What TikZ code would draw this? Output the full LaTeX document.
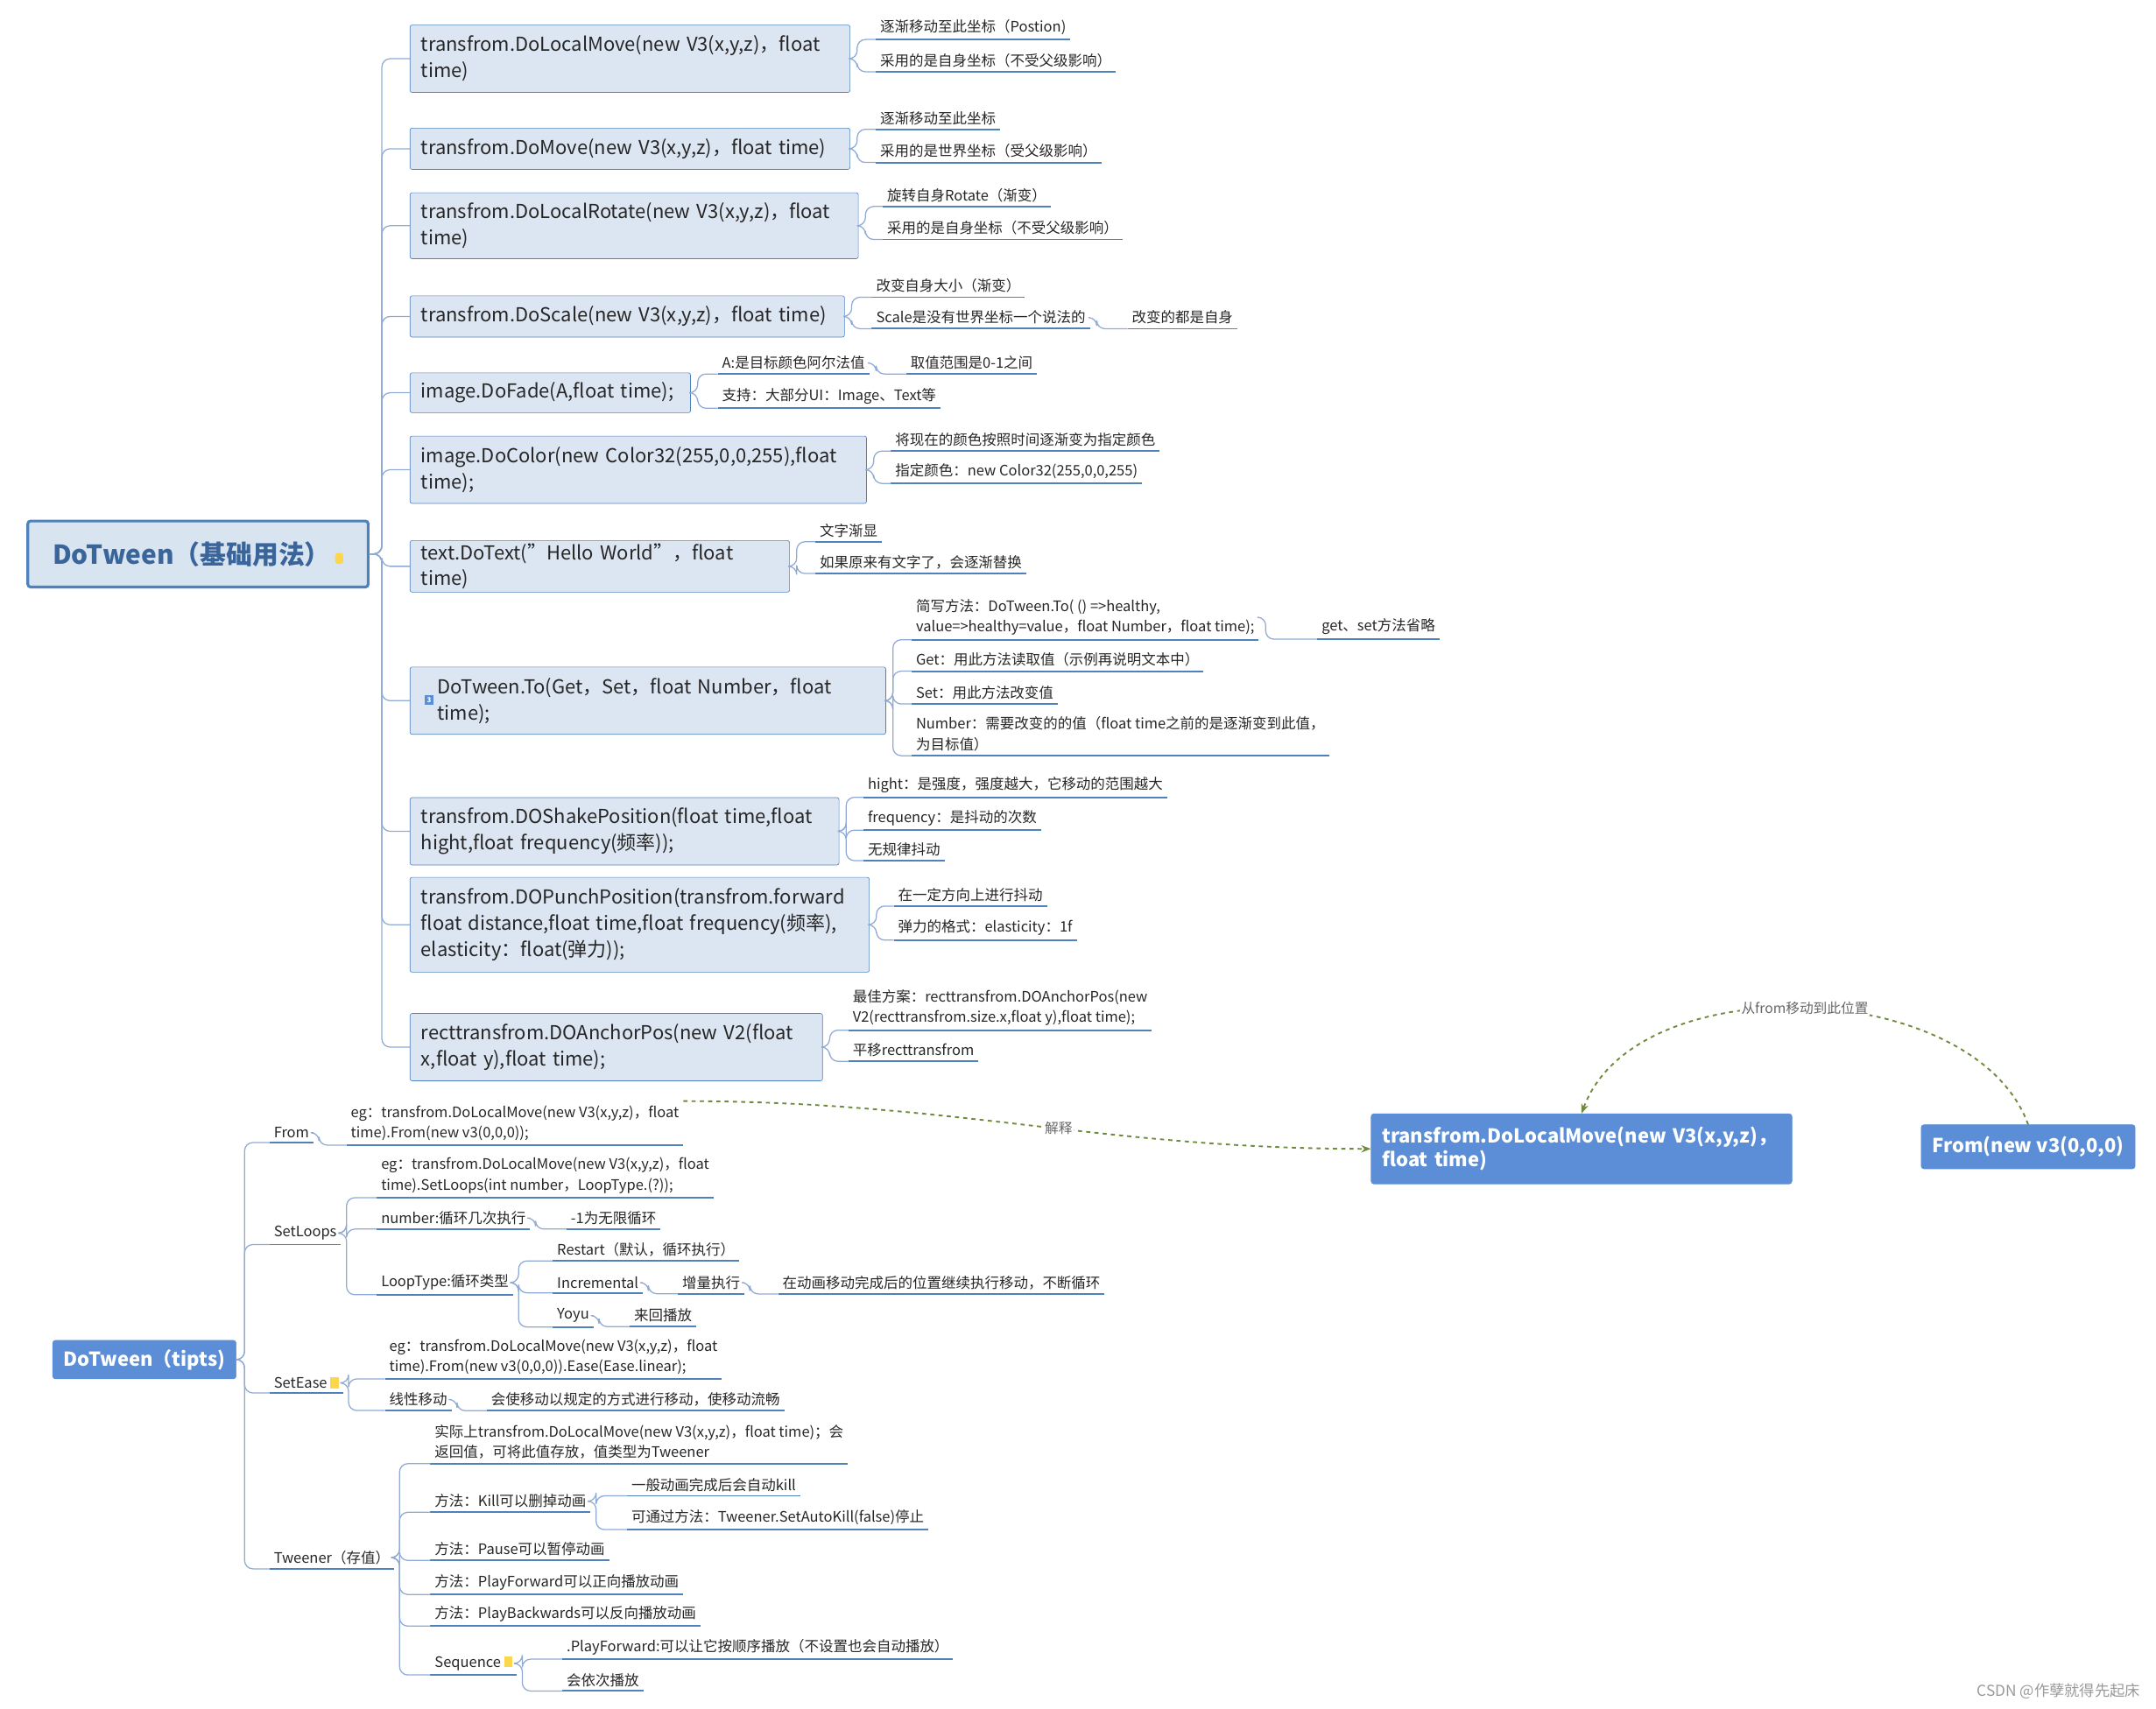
\documentclass[tikz,border=0pt]{standalone}
\usepackage{fontspec}
\setmainfont{Noto Sans CJK SC}
\usetikzlibrary{arrows.meta, positioning, calc}
\definecolor{boxfill}{HTML}{DCE6F2}
\definecolor{boxline}{HTML}{4F81BD}
\definecolor{deepblue}{HTML}{5B8ED6}
\definecolor{rootfill}{HTML}{D9E4F1}
\definecolor{linkc}{HTML}{8FAAD4}
\definecolor{titletext}{HTML}{3A659B}
\definecolor{dashc}{HTML}{6E8B3D}
\newcommand{\notemark}{\tikz[x=1pt,y=1pt]\fill[yellow!60!orange!70] (0,0) rectangle (6,8);}
\begin{document}
\begin{tikzpicture}[
  x=1pt, y=-1pt,
  root/.style = {draw=boxline, line width=2pt, fill=rootfill, rounded corners=2pt,
    font=\fontsize{19}{22}\selectfont\bfseries, text=titletext, inner xsep=18pt,
    minimum height=48pt},
  tiproot/.style = {fill=deepblue, draw=deepblue, rounded corners=2pt, text=white,
    font=\fontsize{14}{17}\selectfont\bfseries, inner xsep=8pt, minimum height=28pt},
  main/.style = {draw=boxline, fill=boxfill, rounded corners=1.5pt, anchor=north west,
    align=left, font=\fontsize{14}{19}\selectfont, text=black!85, inner xsep=8pt, inner ysep=2pt},
  leaf/.style = {anchor=west, inner xsep=3pt, inner ysep=3pt, align=left,
    font=\fontsize{10.5}{15}\selectfont, text=black!85,
    append after command={(\tikzlastnode.south west) edge[uline] (\tikzlastnode.south east)}},
  uline/.style = {draw=boxline, line width=1.2pt},
  link/.style = {draw=linkc, line width=0.8pt, rounded corners=6pt},
  expl/.style = {-{Stealth[length=7pt]}, draw=dashc, dashed, line width=1.2pt},
  note/.style = {font=\fontsize{10}{12}\selectfont\itshape, text=black!60, fill=white, inner sep=1pt}
]
\useasboundingbox (0,0) rectangle (1568,1243);

% ===== DoTween (basic usage) =====
\node[root] (R) at (144,403) {DoTween（基础用法）\,\notemark};

\node[main, text width=304pt, minimum height=49pt] (m1) at (298,18) {transfrom.DoLocalMove(new V3(x,y,z)，float\\time)};
\node[main, text width=304pt, minimum height=30pt] (m2) at (298,93) {transfrom.DoMove(new V3(x,y,z)，float time)};
\node[main, text width=310pt, minimum height=48pt] (m3) at (298,140) {transfrom.DoLocalRotate(new V3(x,y,z)，float\\time)};
\node[main, text width=300pt, minimum height=30pt] (m4) at (298,215) {transfrom.DoScale(new V3(x,y,z)，float time)};
\node[main, text width=188pt, minimum height=29pt] (m5) at (298,271) {image.DoFade(A,float time);};
\node[main, text width=316pt, minimum height=49pt] (m6) at (298,317) {image.DoColor(new Color32(255,0,0,255),float\\time);};
\node[main, text width=260pt, minimum height=30pt] (m7) at (298,393) {text.DoText("Hello World"，float time)};
\node[main, text width=330pt, minimum height=49pt] (m8) at (298,485) {\hspace{12pt}DoTween.To(Get，Set，float Number，float\\\hspace{12pt}time);};
\node[fill=deepblue, text=white, font=\tiny\bfseries, inner sep=1.5pt] (b8) at (312,509) {3};
\node[main, text width=296pt, minimum height=49pt] (m9) at (298,580) {transfrom.DOShakePosition(float time,float\\hight,float frequency(频率));};
\node[main, text width=318pt, minimum height=69pt] (m10) at (298,638) {transfrom.DOPunchPosition(transfrom.forward\\*float distance,float time,float frequency(频率),\\elasticity：float(弹力));};
\node[main, text width=284pt, minimum height=49pt] (m11) at (298,737) {recttransfrom.DOAnchorPos(new V2(float\\x,float y),float time);};

\foreach \m in {m1,m2,m3,m4,m5,m6,m7,m8,m9,m10,m11}
  \draw[link] (R.east) -- ++(9,0) |- (\m.west);

% leaves
\node[leaf] (l1a) at (637,20) {逐渐移动至此坐标（Postion)};
\node[leaf] (l1b) at (637,44) {采用的是自身坐标（不受父级影响）};
\node[leaf] (l2a) at (637,86) {逐渐移动至此坐标};
\node[leaf] (l2b) at (637,110) {采用的是世界坐标（受父级影响）};
\node[leaf] (l3a) at (642,142) {旋转自身Rotate（渐变）};
\node[leaf] (l3b) at (642,166) {采用的是自身坐标（不受父级影响）};
\node[leaf] (l4a) at (634,208) {改变自身大小（渐变）};
\node[leaf] (l4b) at (634,231) {Scale是没有世界坐标一个说法的};
\node[leaf] (l4c) at (820,231) {改变的都是自身};
\node[leaf] (l5a) at (522,264) {A:是目标颜色阿尔法值};
\node[leaf] (l5c) at (659,264) {取值范围是0-1之间};
\node[leaf] (l5b) at (522,288) {支持：大部分UI：Image、Text等};
\node[leaf] (l6a) at (648,320) {将现在的颜色按照时间逐渐变为指定颜色};
\node[leaf] (l6b) at (648,343) {指定颜色：new Color32(255,0,0,255)};
\node[leaf] (l7a) at (593,386) {文字渐显};
\node[leaf] (l7b) at (593,409) {如果原来有文字了，会逐渐替换};
\node[leaf] (l8a) at (663,449) {简写方法：DoTween.To( () =>healthy,\\value=>healthy=value，float Number，float time);};
\node[leaf] (l8e) at (958,456) {get、set方法省略};
\node[leaf] (l8b) at (663,480) {Get：用此方法读取值（示例再说明文本中）};
\node[leaf] (l8c) at (663,504) {Set：用此方法改变值};
\node[leaf] (l8d) at (663,534) {Number：需要改变的的值（float time之前的是逐渐变到此值，\\为目标值）};
\node[leaf] (l9a) at (628,571) {hight：是强度，强度越大，它移动的范围越大};
\node[leaf] (l9b) at (628,595) {frequency：是抖动的次数};
\node[leaf] (l9c) at (628,618) {无规律抖动};
\node[leaf] (l10a) at (650,651) {在一定方向上进行抖动};
\node[leaf] (l10b) at (650,675) {弹力的格式：elasticity：1f};
\node[leaf] (l11a) at (617,733) {最佳方案：recttransfrom.DOAnchorPos(new\\V2(recttransfrom.size.x,float y),float time);};
\node[leaf] (l11b) at (617,764) {平移recttransfrom};

\foreach \p/\c in {m1/l1a,m1/l1b,m2/l2a,m2/l2b,m3/l3a,m3/l3b,m4/l4a,m4/l4b,l4b/l4c,
  m5/l5a,m5/l5b,l5a/l5c,m6/l6a,m6/l6b,m7/l7a,m7/l7b,m8/l8a,m8/l8b,m8/l8c,m8/l8d,l8a/l8e,
  m9/l9a,m9/l9b,m9/l9c,m10/l10a,m10/l10b,m11/l11a,m11/l11b}
  \draw[link] (\p.east) -- ++(5,0) |- (\c.south west);

% ===== DoTween (tips) =====
\node[tiproot] (T) at (105,989) {DoTween（tipts)};

\node[leaf] (tf) at (196,824) {From};
\node[leaf] (ts) at (196,897) {SetLoops};
\node[leaf] (te) at (196,1006) {SetEase \notemark};
\node[leaf] (tt) at (196,1133) {Tweener（存值）};
\foreach \c in {tf,ts,te,tt}
  \draw[link] (T.east) -- ++(6,0) |- (\c.south west);

\node[leaf] (f1) at (252,817) {eg：transfrom.DoLocalMove(new V3(x,y,z)，float\\time).From(new v3(0,0,0));};
\node[leaf] (s1) at (274,855) {eg：transfrom.DoLocalMove(new V3(x,y,z)，float\\time).SetLoops(int number，LoopType.(?));};
\node[leaf] (s2) at (274,886) {number:循环几次执行};
\node[leaf] (s2a) at (412,886) {-1为无限循环};
\node[leaf] (s3) at (274,933) {LoopType:循环类型};
\node[leaf] (s3a) at (402,909) {Restart（默认，循环执行）};
\node[leaf] (s3b) at (402,933) {Incremental};
\node[leaf] (s3b1) at (493,933) {增量执行};
\node[leaf] (s3b2) at (566,933) {在动画移动完成后的位置继续执行移动，不断循环};
\node[leaf] (s3c) at (402,957) {Yoyu};
\node[leaf] (s3c1) at (458,957) {来回播放};
\node[leaf] (e1) at (280,987) {eg：transfrom.DoLocalMove(new V3(x,y,z)，float\\time).From(new v3(0,0,0)).Ease(Ease.linear);};
\node[leaf] (e2) at (280,1018) {线性移动};
\node[leaf] (e2a) at (354,1018) {会使移动以规定的方式进行移动，使移动流畅};
\node[leaf] (w1) at (313,1049) {实际上transfrom.DoLocalMove(new V3(x,y,z)，float time)；会\\返回值，可将此值存放，值类型为Tweener};
\node[leaf] (w2) at (313,1092) {方法：Kill可以删掉动画};
\node[leaf] (w2a) at (456,1080) {一般动画完成后会自动kill};
\node[leaf] (w2b) at (456,1104) {可通过方法：Tweener.SetAutoKill(false)停止};
\node[leaf] (w3) at (313,1127) {方法：Pause可以暂停动画};
\node[leaf] (w4) at (313,1151) {方法：PlayForward可以正向播放动画};
\node[leaf] (w5) at (313,1174) {方法：PlayBackwards可以反向播放动画};
\node[leaf] (w6) at (313,1210) {Sequence \notemark};
\node[leaf] (w6a) at (409,1198) {.PlayForward:可以让它按顺序播放（不设置也会自动播放）};
\node[leaf] (w6b) at (409,1222) {会依次播放};

\foreach \p/\c in {tf/f1,ts/s1,ts/s2,ts/s3,s2/s2a,s3/s3a,s3/s3b,s3/s3c,s3b/s3b1,s3b1/s3b2,s3c/s3c1,
  te/e1,te/e2,e2/e2a,tt/w1,tt/w2,tt/w3,tt/w4,tt/w5,tt/w6,w2/w2a,w2/w2b,w6/w6a,w6/w6b}
  \draw[link] (\p.east) -- ++(4,0) |- (\c.south west);

% ===== explanation boxes =====
\node[tiproot, anchor=north west, align=left, text width=290pt, minimum height=51pt] (X) at (997,810) {transfrom.DoLocalMove(new V3(x,y,z)，\\float time)};
\node[tiproot, anchor=north west, minimum height=32pt] (F) at (1397,818) {From(new v3(0,0,0)};

\draw[expl] (f1.north east) to[out=0, in=180] node[note, pos=0.55] {解释} (X.west);
\draw[expl] (F.north) to[out=110, in=70, looseness=0.9] node[note] {从from移动到此位置} (X.north);

% watermark
\node[text=black!40, font=\fontsize{11}{13}\selectfont, anchor=east] (wm) at (1560,1230) {CSDN @作孽就得先起床};
\end{tikzpicture}
\end{document}
